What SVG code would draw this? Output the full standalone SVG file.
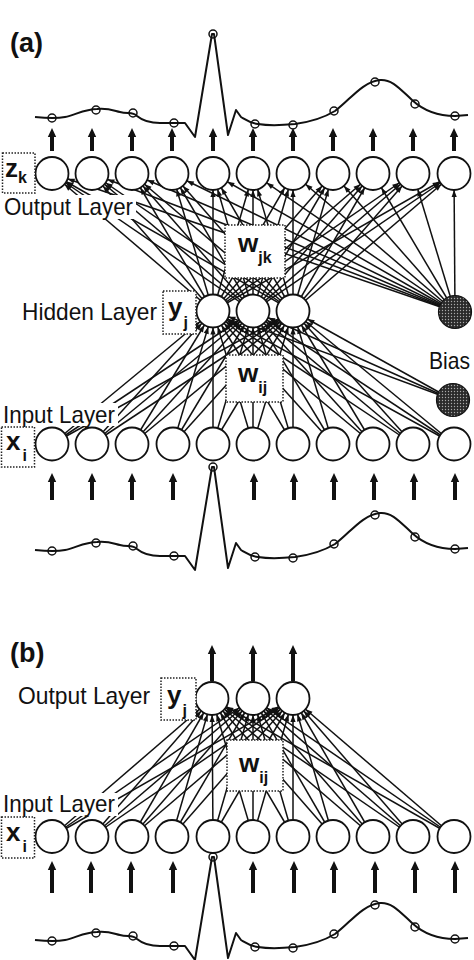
<svg xmlns="http://www.w3.org/2000/svg" width="474" height="960" viewBox="0 0 474 960">
<style>
.n{fill:#fff;stroke:#111;stroke-width:1.8}
.b{fill:url(#stip);stroke:#111;stroke-width:1.2}
.c line{stroke:#111;stroke-width:1.5;marker-end:url(#ah)}
.lbl{font-family:"Liberation Sans",Arial,sans-serif;font-size:24px;fill:#111}
.sym{font-family:"Liberation Sans",Arial,sans-serif;font-size:26px;font-weight:bold;fill:#111}
.sub{font-size:16px}
.box{fill:#fff;stroke:#222;stroke-width:1.5;stroke-dasharray:1.5 1.5}
.sig{fill:none;stroke:#111;stroke-width:2;stroke-linejoin:round}
.dot{fill:none;stroke:#111;stroke-width:1.5}
.arr{fill:#111}
</style>
<defs>
<marker id="ah" markerUnits="userSpaceOnUse" viewBox="-20 -5 40 10" markerWidth="40" markerHeight="10" refX="16.5" refY="0" orient="auto">
<path d="M0,0 L-7,-2.6 L-7,2.6 Z" fill="#111"/>
</marker>
<pattern id="stip" width="3" height="3" patternUnits="userSpaceOnUse"><rect width="3" height="3" fill="#2a2a2a"/><circle cx="1.5" cy="1.5" r="0.7" fill="#aaa"/></pattern>
<g id="sig">
<path class="sig" d="M35,550 C45,551 55,552 65,550 C75,548 85,542 97,542 C108,541 112,543 120,545 C128,547 133,545 137,549 C143,554 150,556 160,556 L185,556 L195,570 L212,467 L214,467 L228,568 L236,543 L241,550 C246,553 250,556 258,557 C270,559 285,558 295,557 C310,555 325,550 335,544 C350,533 362,515 380,513 C392,512 400,522 412,533 C425,545 440,549 455,549 L468,548"/>
<circle class="dot" cx="52" cy="551" r="4"/><circle class="dot" cx="96" cy="543" r="4"/><circle class="dot" cx="133" cy="546" r="4"/><circle class="dot" cx="174" cy="556" r="4"/><circle class="dot" cx="213" cy="467" r="4"/><circle class="dot" cx="255" cy="557" r="4"/><circle class="dot" cx="293" cy="558" r="4"/><circle class="dot" cx="334" cy="544" r="4"/><circle class="dot" cx="375" cy="515" r="4"/><circle class="dot" cx="415" cy="537" r="4"/><circle class="dot" cx="455" cy="549" r="4"/>
</g>
<path id="a23" class="arr" d="M-2,23 V9 H-4.2 L0,0 L4.2,9 H2 V23 Z"/>
<path id="a27" class="arr" d="M-2,27 V9 H-4.2 L0,0 L4.2,9 H2 V27 Z"/>
<path id="a36" class="arr" d="M-2,36 V9 H-4.2 L0,0 L4.2,9 H2 V36 Z"/>
<path id="a32" class="arr" d="M-2,32 V9 H-4.2 L0,0 L4.2,9 H2 V32 Z"/>
</defs>
<rect width="474" height="960" fill="#fff"/>

<text class="sym" x="10" y="52" style="font-size:27px">(a)</text>
<text class="sym" x="10" y="662" style="font-size:27px">(b)</text>

<g id="signal-a-top"><use href="#sig" y="-433"/></g>
<g id="signal-a-bottom"><use href="#sig"/></g>
<g id="signal-b"><use href="#sig" y="390"/></g>

<g id="thick-arrows">
<use href="#a23" x="52" y="128"/><use href="#a23" x="92" y="128"/><use href="#a23" x="132" y="128"/><use href="#a23" x="172" y="128"/><use href="#a23" x="213" y="128"/><use href="#a23" x="253" y="128"/><use href="#a23" x="293" y="128"/><use href="#a23" x="333" y="128"/><use href="#a23" x="373" y="128"/><use href="#a23" x="413" y="128"/><use href="#a23" x="454" y="128"/>
<use href="#a27" x="52" y="473"/><use href="#a27" x="92" y="473"/><use href="#a27" x="132" y="473"/><use href="#a27" x="173" y="473"/><use href="#a27" x="254" y="473"/><use href="#a27" x="294" y="473"/><use href="#a27" x="334" y="473"/><use href="#a27" x="374" y="473"/><use href="#a27" x="414" y="473"/><use href="#a27" x="455" y="473"/>
<use href="#a36" x="212" y="645"/><use href="#a36" x="253" y="645"/><use href="#a36" x="293" y="645"/>
<use href="#a32" x="52" y="861"/><use href="#a32" x="91" y="861"/><use href="#a32" x="131" y="861"/><use href="#a32" x="173" y="861"/><use href="#a32" x="253" y="861"/><use href="#a32" x="294" y="861"/><use href="#a32" x="334" y="861"/><use href="#a32" x="375" y="861"/><use href="#a32" x="415" y="861"/><use href="#a32" x="455" y="861"/>
</g>

<g id="connectors" class="c">
<line x1="213" y1="311" x2="52" y2="173.5"/><line x1="213" y1="311" x2="92" y2="173.5"/><line x1="213" y1="311" x2="132" y2="173.5"/><line x1="213" y1="311" x2="172" y2="173.5"/><line x1="213" y1="311" x2="213" y2="173.5"/><line x1="213" y1="311" x2="253" y2="173.5"/><line x1="213" y1="311" x2="293" y2="173.5"/><line x1="213" y1="311" x2="333" y2="173.5"/><line x1="213" y1="311" x2="373" y2="173.5"/><line x1="213" y1="311" x2="413" y2="173.5"/><line x1="213" y1="311" x2="454" y2="173.5"/>
<line x1="253" y1="311" x2="52" y2="173.5"/><line x1="253" y1="311" x2="92" y2="173.5"/><line x1="253" y1="311" x2="132" y2="173.5"/><line x1="253" y1="311" x2="172" y2="173.5"/><line x1="253" y1="311" x2="213" y2="173.5"/><line x1="253" y1="311" x2="253" y2="173.5"/><line x1="253" y1="311" x2="293" y2="173.5"/><line x1="253" y1="311" x2="333" y2="173.5"/><line x1="253" y1="311" x2="373" y2="173.5"/><line x1="253" y1="311" x2="413" y2="173.5"/><line x1="253" y1="311" x2="454" y2="173.5"/>
<line x1="293" y1="311" x2="52" y2="173.5"/><line x1="293" y1="311" x2="92" y2="173.5"/><line x1="293" y1="311" x2="132" y2="173.5"/><line x1="293" y1="311" x2="172" y2="173.5"/><line x1="293" y1="311" x2="213" y2="173.5"/><line x1="293" y1="311" x2="253" y2="173.5"/><line x1="293" y1="311" x2="293" y2="173.5"/><line x1="293" y1="311" x2="333" y2="173.5"/><line x1="293" y1="311" x2="373" y2="173.5"/><line x1="293" y1="311" x2="413" y2="173.5"/><line x1="293" y1="311" x2="454" y2="173.5"/>
<line x1="455" y1="312" x2="52" y2="173.5"/><line x1="455" y1="312" x2="92" y2="173.5"/><line x1="455" y1="312" x2="132" y2="173.5"/><line x1="455" y1="312" x2="172" y2="173.5"/><line x1="455" y1="312" x2="213" y2="173.5"/><line x1="455" y1="312" x2="253" y2="173.5"/><line x1="455" y1="312" x2="293" y2="173.5"/><line x1="455" y1="312" x2="333" y2="173.5"/><line x1="455" y1="312" x2="373" y2="173.5"/><line x1="455" y1="312" x2="413" y2="173.5"/><line x1="455" y1="312" x2="454" y2="173.5"/>

<line x1="52" y1="444" x2="213" y2="311"/><line x1="52" y1="444" x2="253" y2="311"/><line x1="52" y1="444" x2="293" y2="311"/>
<line x1="92" y1="444" x2="213" y2="311"/><line x1="92" y1="444" x2="253" y2="311"/><line x1="92" y1="444" x2="293" y2="311"/>
<line x1="132" y1="444" x2="213" y2="311"/><line x1="132" y1="444" x2="253" y2="311"/><line x1="132" y1="444" x2="293" y2="311"/>
<line x1="173" y1="444" x2="213" y2="311"/><line x1="173" y1="444" x2="253" y2="311"/><line x1="173" y1="444" x2="293" y2="311"/>
<line x1="213" y1="444" x2="213" y2="311"/><line x1="213" y1="444" x2="253" y2="311"/><line x1="213" y1="444" x2="293" y2="311"/>
<line x1="253" y1="444" x2="213" y2="311"/><line x1="253" y1="444" x2="253" y2="311"/><line x1="253" y1="444" x2="293" y2="311"/>
<line x1="293" y1="444" x2="213" y2="311"/><line x1="293" y1="444" x2="253" y2="311"/><line x1="293" y1="444" x2="293" y2="311"/>
<line x1="333" y1="444" x2="213" y2="311"/><line x1="333" y1="444" x2="253" y2="311"/><line x1="333" y1="444" x2="293" y2="311"/>
<line x1="373" y1="444" x2="213" y2="311"/><line x1="373" y1="444" x2="253" y2="311"/><line x1="373" y1="444" x2="293" y2="311"/>
<line x1="413" y1="444" x2="213" y2="311"/><line x1="413" y1="444" x2="253" y2="311"/><line x1="413" y1="444" x2="293" y2="311"/>
<line x1="454" y1="444" x2="213" y2="311"/><line x1="454" y1="444" x2="253" y2="311"/><line x1="454" y1="444" x2="293" y2="311"/>
<line x1="453" y1="400" x2="213" y2="311"/><line x1="453" y1="400" x2="253" y2="311"/><line x1="453" y1="400" x2="293" y2="311"/>

<line x1="52" y1="836.5" x2="212" y2="698.5"/><line x1="52" y1="836.5" x2="253" y2="698.5"/><line x1="52" y1="836.5" x2="293" y2="698.5"/>
<line x1="92" y1="836.5" x2="212" y2="698.5"/><line x1="92" y1="836.5" x2="253" y2="698.5"/><line x1="92" y1="836.5" x2="293" y2="698.5"/>
<line x1="132" y1="836.5" x2="212" y2="698.5"/><line x1="132" y1="836.5" x2="253" y2="698.5"/><line x1="132" y1="836.5" x2="293" y2="698.5"/>
<line x1="172" y1="836.5" x2="212" y2="698.5"/><line x1="172" y1="836.5" x2="253" y2="698.5"/><line x1="172" y1="836.5" x2="293" y2="698.5"/>
<line x1="213" y1="836.5" x2="212" y2="698.5"/><line x1="213" y1="836.5" x2="253" y2="698.5"/><line x1="213" y1="836.5" x2="293" y2="698.5"/>
<line x1="253" y1="836.5" x2="212" y2="698.5"/><line x1="253" y1="836.5" x2="253" y2="698.5"/><line x1="253" y1="836.5" x2="293" y2="698.5"/>
<line x1="293" y1="836.5" x2="212" y2="698.5"/><line x1="293" y1="836.5" x2="253" y2="698.5"/><line x1="293" y1="836.5" x2="293" y2="698.5"/>
<line x1="333" y1="836.5" x2="212" y2="698.5"/><line x1="333" y1="836.5" x2="253" y2="698.5"/><line x1="333" y1="836.5" x2="293" y2="698.5"/>
<line x1="373" y1="836.5" x2="212" y2="698.5"/><line x1="373" y1="836.5" x2="253" y2="698.5"/><line x1="373" y1="836.5" x2="293" y2="698.5"/>
<line x1="413" y1="836.5" x2="212" y2="698.5"/><line x1="413" y1="836.5" x2="253" y2="698.5"/><line x1="413" y1="836.5" x2="293" y2="698.5"/>
<line x1="454" y1="836.5" x2="212" y2="698.5"/><line x1="454" y1="836.5" x2="253" y2="698.5"/><line x1="454" y1="836.5" x2="293" y2="698.5"/>
</g>

<g id="a-output-nodes">
<g id="z1"><circle class="n" cx="52" cy="173.5" r="16.5"/></g>
<g id="z2"><circle class="n" cx="92" cy="173.5" r="16.5"/></g>
<g id="z3"><circle class="n" cx="132" cy="173.5" r="16.5"/></g>
<g id="z4"><circle class="n" cx="172" cy="173.5" r="16.5"/></g>
<g id="z5"><circle class="n" cx="213" cy="173.5" r="16.5"/></g>
<g id="z6"><circle class="n" cx="253" cy="173.5" r="16.5"/></g>
<g id="z7"><circle class="n" cx="293" cy="173.5" r="16.5"/></g>
<g id="z8"><circle class="n" cx="333" cy="173.5" r="16.5"/></g>
<g id="z9"><circle class="n" cx="373" cy="173.5" r="16.5"/></g>
<g id="z10"><circle class="n" cx="413" cy="173.5" r="16.5"/></g>
<g id="z11"><circle class="n" cx="454" cy="173.5" r="16.5"/></g>
</g>
<g id="a-hidden-nodes">
<g id="y1"><circle class="n" cx="213" cy="311" r="16.5"/></g>
<g id="y2"><circle class="n" cx="253" cy="311" r="16.5"/></g>
<g id="y3"><circle class="n" cx="293" cy="311" r="16.5"/></g>
</g>
<g id="bias-hidden"><circle class="b" cx="455" cy="312" r="16.5"/></g>
<g id="bias-input"><circle class="b" cx="453" cy="400" r="16.5"/></g>
<g id="a-input-nodes">
<g id="x1"><circle class="n" cx="52" cy="444" r="16.5"/></g>
<g id="x2"><circle class="n" cx="92" cy="444" r="16.5"/></g>
<g id="x3"><circle class="n" cx="132" cy="444" r="16.5"/></g>
<g id="x4"><circle class="n" cx="173" cy="444" r="16.5"/></g>
<g id="x5"><circle class="n" cx="213" cy="444" r="16.5"/></g>
<g id="x6"><circle class="n" cx="253" cy="444" r="16.5"/></g>
<g id="x7"><circle class="n" cx="293" cy="444" r="16.5"/></g>
<g id="x8"><circle class="n" cx="333" cy="444" r="16.5"/></g>
<g id="x9"><circle class="n" cx="373" cy="444" r="16.5"/></g>
<g id="x10"><circle class="n" cx="413" cy="444" r="16.5"/></g>
<g id="x11"><circle class="n" cx="454" cy="444" r="16.5"/></g>
</g>
<g id="b-output-nodes">
<g id="by1"><circle class="n" cx="212" cy="698.5" r="16.5"/></g>
<g id="by2"><circle class="n" cx="253" cy="698.5" r="16.5"/></g>
<g id="by3"><circle class="n" cx="293" cy="698.5" r="16.5"/></g>
</g>
<g id="b-input-nodes">
<g id="bx1"><circle class="n" cx="52" cy="836.5" r="16.5"/></g>
<g id="bx2"><circle class="n" cx="92" cy="836.5" r="16.5"/></g>
<g id="bx3"><circle class="n" cx="132" cy="836.5" r="16.5"/></g>
<g id="bx4"><circle class="n" cx="172" cy="836.5" r="16.5"/></g>
<g id="bx5"><circle class="n" cx="213" cy="836.5" r="16.5"/></g>
<g id="bx6"><circle class="n" cx="253" cy="836.5" r="16.5"/></g>
<g id="bx7"><circle class="n" cx="293" cy="836.5" r="16.5"/></g>
<g id="bx8"><circle class="n" cx="333" cy="836.5" r="16.5"/></g>
<g id="bx9"><circle class="n" cx="373" cy="836.5" r="16.5"/></g>
<g id="bx10"><circle class="n" cx="413" cy="836.5" r="16.5"/></g>
<g id="bx11"><circle class="n" cx="454" cy="836.5" r="16.5"/></g>
</g>

<g id="labels">
<rect x="2" y="195" width="134" height="24" fill="#fff"/>
<text class="lbl" x="4" y="215" textLength="129" lengthAdjust="spacingAndGlyphs">Output Layer</text>
<text class="lbl" x="22" y="320" textLength="135" lengthAdjust="spacingAndGlyphs">Hidden Layer</text>
<text class="lbl" x="429" y="369" textLength="41" lengthAdjust="spacingAndGlyphs">Bias</text>
<rect x="1" y="403" width="117" height="23" fill="#fff"/>
<text class="lbl" x="3" y="423" textLength="112" lengthAdjust="spacingAndGlyphs">Input Layer</text>
<text class="lbl" x="18" y="704" textLength="132" lengthAdjust="spacingAndGlyphs">Output Layer</text>
<rect x="1" y="793" width="117" height="23" fill="#fff"/>
<text class="lbl" x="3" y="812" textLength="112" lengthAdjust="spacingAndGlyphs">Input Layer</text>
</g>

<g id="zk">
<rect class="box" x="2.5" y="153" width="32.5" height="40"/>
<text class="sym" x="5" y="177">z<tspan class="sub" dy="6">k</tspan></text>
</g>
<g id="yj-a">
<rect class="box" x="163" y="291" width="33" height="43"/>
<text class="sym" x="168" y="316">y<tspan class="sub" dx="1" dy="12">j</tspan></text>
</g>
<g id="xi-a">
<rect class="box" x="1.5" y="427" width="33" height="40"/>
<text class="sym" x="6" y="450">x<tspan class="sub" dx="2" dy="11">i</tspan></text>
</g>
<g id="wjk">
<rect class="box" x="225" y="225" width="60" height="53"/>
<text class="sym" x="238" y="252">w<tspan class="sub" dy="11">jk</tspan></text>
</g>
<g id="wij-a">
<rect class="box" x="226" y="355" width="57" height="47"/>
<text class="sym" x="238" y="382">w<tspan class="sub" dy="11">ij</tspan></text>
</g>
<g id="yj-b">
<rect class="box" x="161" y="678" width="35" height="42"/>
<text class="sym" x="167" y="704">y<tspan class="sub" dx="1" dy="12">j</tspan></text>
</g>
<g id="wij-b">
<rect class="box" x="227" y="740" width="56" height="51"/>
<text class="sym" x="239" y="772">w<tspan class="sub" dy="11">ij</tspan></text>
</g>
<g id="xi-b">
<rect class="box" x="1.5" y="817" width="33" height="41"/>
<text class="sym" x="6" y="841">x<tspan class="sub" dx="2" dy="11">i</tspan></text>
</g>
</svg>
